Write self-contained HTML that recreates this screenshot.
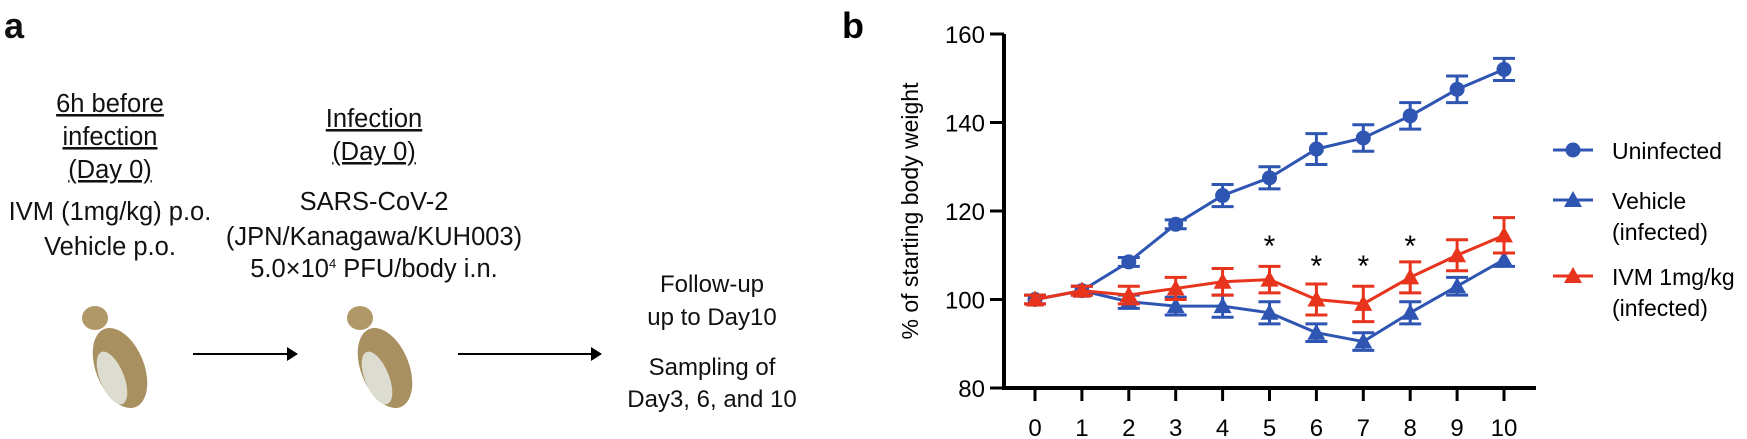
<!DOCTYPE html>
<html><head><meta charset="utf-8"><style>
body{margin:0;background:#fff;width:1747px;height:439px;overflow:hidden;font-family:"Liberation Sans","Noto Sans CJK JP",sans-serif;}
svg{display:block}
</style></head><body>
<svg width="1747" height="439" viewBox="0 0 1747 439" font-family="Liberation Sans, Noto Sans CJK JP, sans-serif">
<g text-anchor="middle" font-size="25.5" fill="#111">
<text x="4" y="38" font-size="36" font-weight="bold" text-anchor="start">a</text>
<text x="110" y="112" text-decoration="underline">6h before</text>
<text x="110" y="145" text-decoration="underline">infection</text>
<text x="110" y="178" text-decoration="underline">(Day 0)</text>
<text x="110" y="220">IVM (1mg/kg) p.o.</text>
<text x="110" y="255">Vehicle p.o.</text>
<text x="374" y="127" text-decoration="underline">Infection</text>
<text x="374" y="160" text-decoration="underline">(Day 0)</text>
<text x="374" y="210">SARS-CoV-2</text>
<text x="374" y="245">(JPN/Kanagawa/KUH003)</text>
<text x="374" y="277">5.0×10<tspan font-size="13" dy="-9">4</tspan><tspan dy="9"> PFU/body i.n.</tspan></text>
<g>
<ellipse cx="120" cy="368" rx="24" ry="42" fill="#a89060" transform="rotate(-22 120 368)"/>
<ellipse cx="112" cy="378" rx="12" ry="28" fill="#dcdcd0" transform="rotate(-22 112 378)"/>
<ellipse cx="95" cy="318" rx="13" ry="12" fill="#b09868"/>
</g>
<g>
<ellipse cx="385" cy="368" rx="24" ry="42" fill="#a89060" transform="rotate(-22 385 368)"/>
<ellipse cx="377" cy="378" rx="12" ry="28" fill="#dcdcd0" transform="rotate(-22 377 378)"/>
<ellipse cx="360" cy="318" rx="13" ry="12" fill="#b09868"/>
</g>
<g><line x1="193" y1="354" x2="287" y2="354" stroke="#000" stroke-width="2"/><polygon points="287,347 298,354 287,361" fill="#000"/></g>
<g><line x1="458" y1="354" x2="591" y2="354" stroke="#000" stroke-width="2"/><polygon points="591,347 602,354 591,361" fill="#000"/></g>
<g font-size="24">
<text x="712" y="292">Follow-up</text>
<text x="712" y="325">up to Day10</text>
<text x="712" y="375">Sampling of</text>
<text x="712" y="407">Day3, 6, and 10</text>
</g>
</g>
<g id="chart"></g>
</svg>
<script>
const days=[0,1,2,3,4,5,6,7,8,9,10];
const uninfMean=[100,102,108.5,117,123.5,127.5,134,136.5,141.5,147.5,152];
const uninfErr=[1,1,1,1,2.5,2.5,3.5,3,3,3,2.5];
const vehMean=[100,102,99.5,98.5,98.5,97,92.5,90.5,97,103,109];
const vehErr=[1,1,1.5,2,2.5,2.5,2,2,2.5,2,1.5];
const ivmMean=[100,102,101,102.5,104,104.5,100,99,105,110,114.5];
const ivmErr=[1,1,2,2.5,3,3,3.5,4,3.5,3.5,4];
const starDays=[5,6,7,8];
const starVals=[113,108.5,108.5,113];
const yTicks=[80,100,120,140,160];
const NS='http://www.w3.org/2000/svg';
const g=document.getElementById('chart');
const X=d=>1035+d*46.9;
const Y=v=>388-(v-80)*(354/80);
function mk(tag,attrs,parent){const e=document.createElementNS(NS,tag);for(const k in attrs)e.setAttribute(k,attrs[k]);(parent||g).appendChild(e);return e;}
let t=mk('text',{x:842,y:38,'font-size':36,'font-weight':'bold'});t.textContent='b';


let ya=mk('line',{x1:1004,y1:34,x2:1004,y2:390,stroke:'#000','stroke-width':4});


let xa=mk('line',{x1:1002,y1:388,x2:1536,y2:388,stroke:'#000','stroke-width':4});


yTicks.forEach(v=>{
  mk('line',{x1:990,y1:Y(v),x2:1004,y2:Y(v),stroke:'#000','stroke-width':3});
  const l=mk('text',{x:985,y:Y(v)+9,'font-size':24,'text-anchor':'end'});l.textContent=v;
  
  
});
days.forEach(d=>{
  mk('line',{x1:X(d),y1:388,x2:X(d),y2:401,stroke:'#000','stroke-width':3});
  const l=mk('text',{x:X(d),y:436,'font-size':24,'text-anchor':'middle'});l.textContent=d;
  
  
});
const yt=mk('text',{x:0,y:0,'font-size':23,'text-anchor':'middle',transform:'translate(918,211) rotate(-90)'});yt.textContent='% of starting body weight';


function marker(shape,x,y,col,parent){
  if(shape==='c')return mk('circle',{cx:x,cy:y,r:7.5,fill:col},parent);
  return mk('polygon',{points:`${x},${y-9} ${x+9},${y+7} ${x-9},${y+7}`,fill:col},parent);
}
function series(name,mean,err,col,shape){
  const sg=mk('g',{});
  
  
  mk('polyline',{points:days.map((d,i)=>X(d)+','+Y(mean[i])).join(' '),fill:'none',stroke:col,'stroke-width':3},sg);
  days.forEach((d,i)=>{
    const x=X(d),y1=Y(mean[i]+err[i]),y2=Y(mean[i]-err[i]);
    const eb=mk('path',{d:`M${x},${y1}V${y2}M${x-11},${y1}H${x+11}M${x-11},${y2}H${x+11}`,stroke:col,'stroke-width':3,fill:'none'},sg);
    
    
    const m=marker(shape,x,Y(mean[i]),col,sg);
    
    
  });
}
series('series-vehicle',vehMean,vehErr,'#2f55b3','t');
series('series-uninfected',uninfMean,uninfErr,'#2f55b3','c');
series('series-ivm',ivmMean,ivmErr,'#e8341c','t');
starDays.forEach((d,i)=>{
  const s=mk('text',{x:X(d),y:Y(starVals[i])+14,'font-size':30,'text-anchor':'middle'});s.textContent='*';
  
  
});
const leg=[['Uninfected','','#2f55b3','c',150],['Vehicle','(infected)','#2f55b3','t',200],['IVM 1mg/kg','(infected)','#e8341c','t',276]];
leg.forEach(([a,b,col,sh,y])=>{
  const lg=mk('g',{});
  
  
  mk('line',{x1:1553,y1:y,x2:1593,y2:y,stroke:col,'stroke-width':3},lg);
  marker(sh,1573,y,col,lg);
  const t1=mk('text',{x:1612,y:y+9,'font-size':23},lg);t1.textContent=a;
  if(b){const t2=mk('text',{x:1612,y:y+40,'font-size':23},lg);t2.textContent=b;}
});
</script>
</body></html>
